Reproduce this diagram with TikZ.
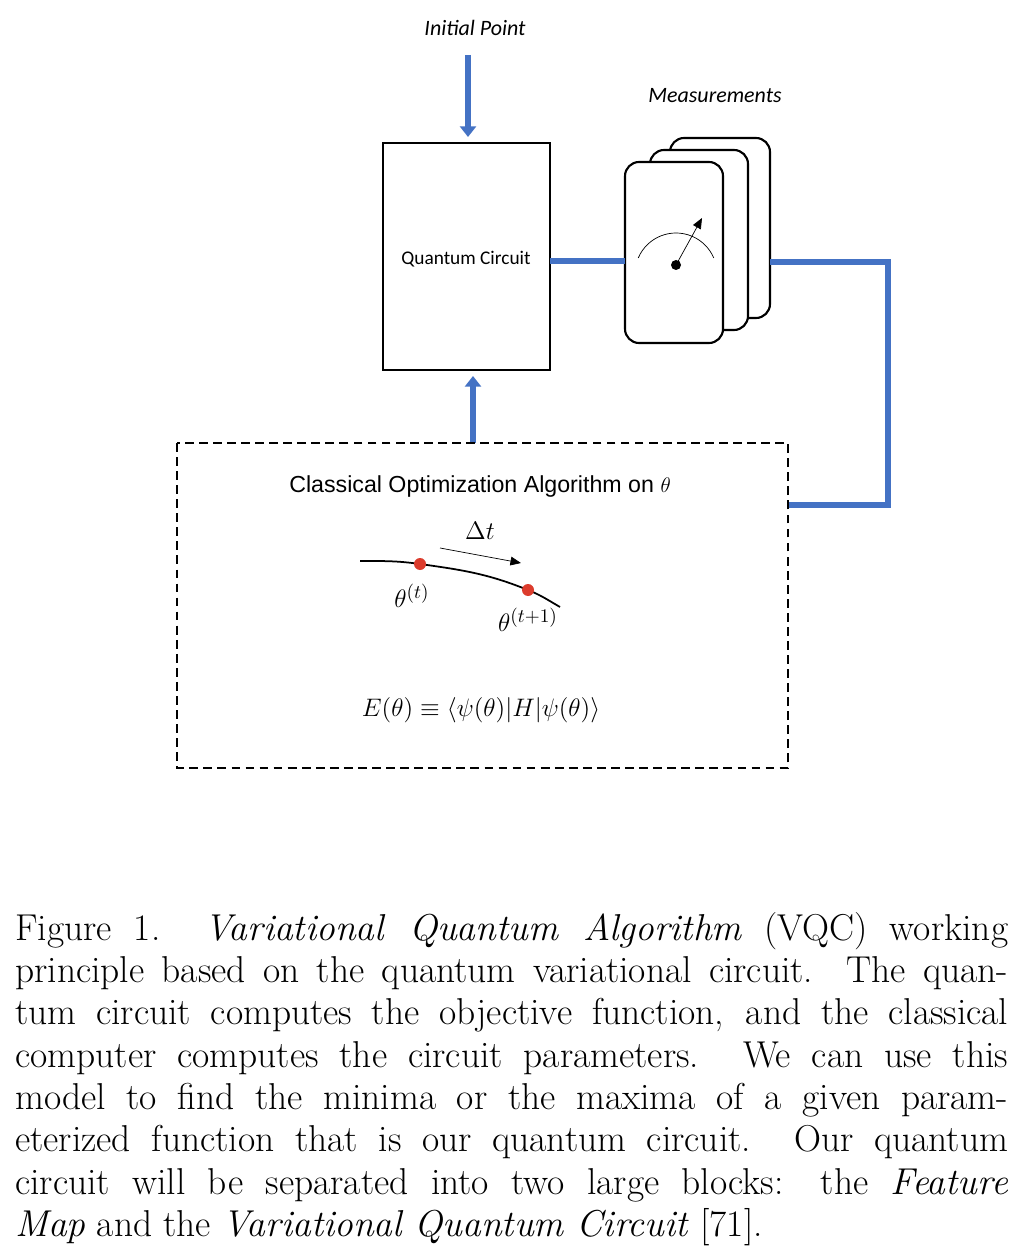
\documentclass[tikz,border=0pt]{standalone}
\usepackage{fontspec}
\setmainfont{Latin Modern Roman}
\newfontfamily\carl{Carlito}
\newfontfamily\arl{Liberation Sans}
\usetikzlibrary{arrows.meta}
\definecolor{qblue}{RGB}{68,114,196}
\definecolor{qred}{RGB}{220,60,45}
\tikzset{
  flow/.style={draw=qblue,line width=3pt},
  flowarr/.style={flow,-{Triangle[length=6pt,width=9pt]}},
  card/.style={draw,line width=1.2pt,fill=white,rounded corners=8pt},
}
\begin{document}
\begin{tikzpicture}[x=0.02cm,y=-0.02cm]
  \useasboundingbox (0,0) rectangle (1022,1256);
  % labels on top
  \node (ip) at (475,28) {\carl\itshape\fontsize{12.5}{14}\selectfont Initial Point};
  \node (meas) at (715,96) {\carl\itshape\fontsize{12.5}{14}\selectfont Measurements};
  % quantum circuit box
  \draw[line width=1.2pt] (383,143) rectangle (550,370);
  \node (qc) at (466,259) {\carl\fontsize{11}{13}\selectfont Quantum Circuit};
  \coordinate (qctop) at (468,137);
  \coordinate (ipend) at (468,55);
  \draw[flowarr] (ipend) -- (qctop);
  % measurement cards
  \draw[card] (670,138) rectangle (770,318);
  \draw[card] (650,150) rectangle (748,330);
  \draw[card] (625,162) rectangle (723,343);
  \coordinate (dial) at (676,265);
  \coordinate (arcc) at (676,274);
  \draw[thin] ([shift={(-157:41)}]arcc) arc[start angle=-157,end angle=-23,radius=41];
  \fill (dial) circle (5);
  \draw[-{Triangle[length=6pt,width=5pt]}] (dial) -- (702,218);
  % connectors
  \coordinate (qcr) at (550,261);
  \coordinate (cl) at (625,261);
  \draw[flow] (qcr) -- (cl);
  \coordinate (cr) at (770,262);
  \coordinate (opt) at (788,505);
  \draw[flow] (cr) -- (888,262) -- (888,505) -- (opt);
  \coordinate (optop) at (473,443);
  \coordinate (qcbot) at (473,376);
  \draw[flowarr] (optop) -- (qcbot);
  % optimizer box
  \draw[dashed,line width=0.9pt,dash pattern=on 5pt off 3pt] (177,443) rectangle (788,768);
  \node (title) at (480,487) {\arl\fontsize{13.2}{15}\selectfont Classical Optimization Algorithm on $\theta$};
  \draw[line width=1pt] (360,561) to[out=0,in=172] (420,564) to[out=-8,in=158] (528,590) to[out=-22,in=150] (560,607);
  \fill[qred] (420,564) circle (6);
  \fill[qred] (528,590) circle (6);
  \node (dt) at (480,531) {\fontsize{15}{17}\selectfont$\Delta t$};
  \draw[-{Triangle[length=6pt,width=5pt]}] (440,548) -- (521,563);
  \node (th1) at (412,596) {\fontsize{15}{17}\selectfont$\theta^{(t)}$};
  \node (th2) at (528,620) {\fontsize{15}{17}\selectfont$\theta^{(t+1)}$};
  \node (en) at (481,710) {\fontsize{13.7}{16}\selectfont$E(\theta)\equiv\langle\psi(\theta)|H|\psi(\theta)\rangle$};
  % caption
  \node[anchor=north west,inner sep=0pt,text width=19.86cm,align=justify] (cap) at (15,912)
    {\fontsize{21.3}{21.2}\selectfont\baselineskip=0.846cm
     Figure 1.\ \ \textit{Variational Quantum Algorithm} (VQC) working\linebreak
     principle based on the quantum variational circuit. The quan-\linebreak
     tum circuit computes the objective function, and the classical\linebreak
     computer computes the circuit parameters. We can use this\linebreak
     model to find the minima or the maxima of a given param-\linebreak
     eterized function that is our quantum circuit. Our quantum\linebreak
     circuit will be separated into two large blocks: the \textit{Feature}\linebreak
     \textit{Map} and the \textit{Variational Quantum Circuit} [71].\par};
\end{tikzpicture}
\end{document}
